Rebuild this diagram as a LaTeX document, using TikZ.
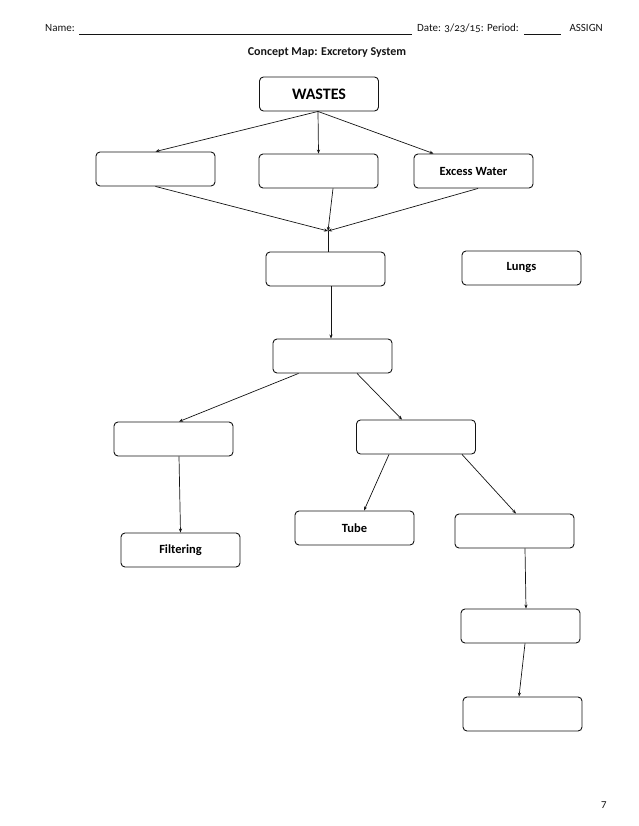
\documentclass[tikz,border=0pt]{standalone}
\usepackage{fontspec}
\setmainfont{Carlito}[Numbers=OldStyle]
\usetikzlibrary{arrows.meta,positioning}
\definecolor{ink}{RGB}{20,20,20}
\tikzset{
  >={Stealth[length=4pt,width=3.2pt]},
  concept/.style={draw=ink,rounded corners=4pt,line width=0.9pt,
    minimum width=119pt,minimum height=34pt,inner sep=0pt,align=center,
    font=\fontsize{12.5}{14}\selectfont\bfseries},
  link/.style={->,line width=0.7pt,draw=ink},
  plain link/.style={line width=0.7pt,draw=ink},
  hdr/.style={font=\fontsize{11}{13}\selectfont,text=ink,inner sep=0pt},
}
\begin{document}
\begin{tikzpicture}[x=1pt,y=-1pt]
  \useasboundingbox (0,0) rectangle (638,826);
  % header
  \node[hdr,anchor=base west] (name) at (45,32) {Name:};
  \node[hdr,anchor=base west] (date) at (417,32) {Date: 3/23/15: Period:};
  \node[hdr,anchor=base east] (assign) at (603,32) {ASSIGN};
  \draw[line width=0.6pt,ink] (79,34.5) -- (412,34.5) (524,34.5) -- (561,34.5);
  \node[font=\fontsize{12}{14}\selectfont\bfseries,text=ink] (title) at (327,53) {Concept Map: Excretory System};
  % boxes
  \node[concept,font=\fontsize{16}{18}\selectfont\bfseries] (wastes) at (319,94) {WASTES};
  \node[concept] (a) at (155.5,169) {};
  \node[concept] (b) at (318.5,171) {};
  \node[concept] (water) at (473.5,171) {Excess Water};
  \node[concept] (c) at (325.5,269) {};
  \node[concept] (lungs) at (521.5,268) {Lungs};
  \node[concept] (d) at (332.5,356) {};
  \node[concept] (e) at (173.5,439) {};
  \node[concept] (f) at (416,437) {};
  \node[concept] (tube) at (354.5,528) {Tube};
  \node[concept] (filter) at (180.5,550) {Filtering};
  \node[concept] (g) at (514.5,531) {};
  \node[concept] (h) at (520.5,626) {};
  \node[concept] (i) at (522.5,714) {};
  \coordinate (join) at (328,231);
  % links
  \draw[link] ([xshift=-1pt]wastes.south) -- (a.north);
  \draw[link] ([xshift=-1pt]wastes.south) -- (b.north);
  \draw[link] ([xshift=-1pt]wastes.south) -- ([xshift=-40pt]water.north);
  \draw[link] (a.south) -- (join);
  \draw[link] ([xshift=14.5pt]b.south) -- (join);
  \draw[link] ([xshift=4.5pt]water.south) -- (join);
  \draw[plain link] (join) -- ([xshift=2.5pt]c.north);
  \draw[link] ([xshift=5.5pt]c.south) -- ([xshift=-1.5pt]d.north);
  \draw[link] ([xshift=-34pt]d.south) -- ([xshift=5.5pt]e.north);
  \draw[link] ([xshift=24.5pt]d.south) -- ([xshift=-14pt]f.north);
  \draw[link] ([xshift=5.5pt]e.south) -- (filter.north);
  \draw[link] ([xshift=-27pt]f.south) -- ([xshift=9.5pt]tube.north);
  \draw[link] ([xshift=46pt]f.south) -- ([xshift=1.5pt]g.north);
  \draw[link] ([xshift=10.5pt]g.south) -- ([xshift=5.5pt]h.north);
  \draw[link] ([xshift=4.5pt]h.south) -- ([xshift=-3.5pt]i.north);
  \node[hdr] (page) at (604,805) {7};
\end{tikzpicture}
\end{document}
